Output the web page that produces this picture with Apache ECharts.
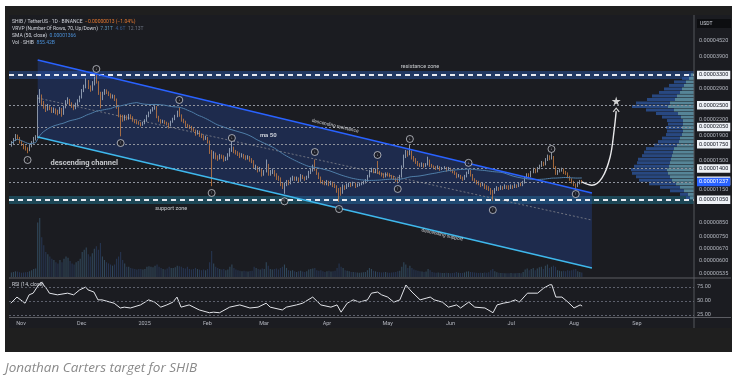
<!DOCTYPE html>
<html><head><meta charset="utf-8">
<script src="https://cdn.jsdelivr.net/npm/echarts@6/dist/echarts.min.js"></script>
<style>html,body{margin:0;padding:0;background:#fff;}#c{width:737px;height:382px;}</style>
</head><body><div id="c"></div>
<script>
// ---------- DATA (prices in units of 1e-8 USDT) ----------
const startDate = [2024, 10, 27]; // first daily candle
const firstOpen = 1730;
const closes = [1760,1820,1880,1850,1790,1740,1700,1680,1650,1720,
1780,1840,1860,2600,2700,2560,2480,2420,2470,2430,
2380,2400,2360,2330,2420,2310,2450,2560,2620,2540,
2490,2430,2520,2600,2680,2850,2950,3100,2950,2880,
3050,3130,3100,2800,2650,2780,2850,2810,2760,2700,
2720,2640,2450,2280,2230,2200,2250,2210,2280,2240,
2180,2150,2130,2120,2090,2120,2170,2260,2330,2380,
2420,2470,2250,2180,2150,2160,2130,2110,2080,2150,
2200,2260,2350,2280,2180,2150,2080,2060,2040,2010,
1990,1930,1960,1900,1880,1840,1860,1800,1640,1560,
1600,1560,1540,1570,1560,1520,1530,1580,1650,1690,
1640,1620,1600,1570,1580,1560,1540,1550,1520,1500,
1420,1420,1380,1390,1330,1360,1450,1330,1350,1370,
1330,1290,1280,1220,1190,1210,1240,1230,1270,1290,
1270,1280,1250,1310,1290,1270,1290,1350,1380,1420,
1390,1340,1290,1240,1230,1220,1240,1210,1230,1200,
1190,1150,1140,1130,1190,1170,1200,1210,1200,1220,
1190,1200,1210,1220,1230,1250,1300,1360,1390,1360,
1380,1350,1340,1320,1300,1330,1320,1310,1290,1280,
1260,1250,1300,1420,1560,1620,1590,1640,1550,1520,
1490,1450,1440,1460,1430,1450,1510,1440,1430,1410,
1400,1420,1390,1400,1410,1380,1400,1380,1360,1340,
1300,1310,1290,1270,1300,1340,1370,1320,1270,1250,
1230,1220,1200,1210,1180,1170,1160,1130,1120,1150,
1170,1160,1180,1170,1190,1180,1170,1190,1180,1200,
1190,1210,1200,1230,1280,1320,1300,1350,1390,1360,
1400,1430,1480,1450,1520,1560,1530,1560,1420,1340,
1360,1380,1390,1350,1340,1300,1270,1240,1210,1190,
1220,1250,1237];
const highs = [1800,1850,1920,1910,1870,1810,1760,1730,1700,1740,
1800,1870,1900,2750,2900,2760,2600,2520,2530,2510,
2460,2450,2430,2400,2460,2440,2490,2620,2690,2650,
2570,2520,2560,2640,2730,2900,3020,3200,3150,3000,
3120,3250,3330,3120,2830,2830,2900,2890,2840,2790,
2760,2750,2660,2470,2300,2290,2290,2280,2310,2300,
2260,2200,2180,2160,2140,2150,2200,2290,2360,2410,
2460,2520,2480,2270,2200,2190,2180,2150,2130,2170,
2230,2290,2380,2460,2300,2210,2170,2110,2090,2070,
2040,2000,1990,1980,1930,1900,1890,1870,1810,1660,
1640,1620,1580,1600,1590,1580,1560,1610,1690,1790,
1710,1660,1640,1620,1610,1600,1580,1580,1570,1540,
1510,1450,1430,1420,1400,1380,1520,1460,1380,1400,
1380,1340,1310,1290,1230,1230,1260,1260,1290,1310,
1300,1300,1290,1330,1320,1300,1310,1370,1400,1450,
1520,1400,1350,1300,1260,1250,1260,1250,1250,1240,
1220,1200,1170,1180,1210,1200,1220,1230,1230,1240,
1230,1220,1230,1240,1250,1270,1320,1380,1410,1400,
1400,1500,1370,1350,1340,1350,1350,1340,1320,1310,
1290,1280,1320,1440,1590,1660,1650,1740,1650,1570,
1540,1500,1470,1480,1470,1470,1560,1520,1460,1440,
1430,1440,1430,1420,1430,1420,1420,1410,1390,1370,
1350,1330,1320,1300,1320,1360,1390,1380,1330,1280,
1260,1250,1230,1230,1220,1200,1190,1170,1150,1170,
1190,1180,1200,1190,1210,1200,1200,1210,1200,1220,
1210,1230,1230,1250,1300,1340,1340,1370,1410,1400,
1420,1450,1500,1490,1540,1590,1580,1620,1570,1430,
1380,1400,1410,1400,1370,1350,1310,1280,1250,1220,
1240,1260,1260];
const lows = [1710,1740,1800,1820,1760,1720,1670,1650,1610,1640,
1700,1760,1810,1850,2550,2480,2420,2350,2380,2390,
2330,2330,2300,2280,2310,2250,2290,2430,2530,2500,
2440,2390,2410,2490,2570,2660,2820,2920,2900,2830,
2860,3000,3050,2750,2430,2620,2750,2770,2720,2660,
2660,2600,2420,2240,1880,2150,2170,2180,2190,2200,
2150,2120,2100,2090,2060,2070,2100,2150,2240,2310,
2360,2400,2220,2150,2110,2120,2100,2080,2020,2060,
2130,2180,2240,2250,2150,2120,2050,2030,2010,1980,
1960,1890,1910,1870,1850,1810,1820,1760,1600,1190,
1530,1520,1500,1520,1530,1490,1500,1510,1560,1630,
1610,1590,1570,1540,1550,1530,1510,1520,1490,1470,
1400,1380,1350,1360,1300,1310,1350,1310,1310,1330,
1300,1260,1250,1190,1160,1110,1190,1200,1210,1250,
1250,1250,1230,1240,1270,1250,1260,1280,1330,1360,
1370,1320,1270,1220,1210,1200,1200,1190,1200,1180,
1170,1120,1030,1090,1110,1150,1160,1180,1180,1190,
1170,1180,1190,1200,1210,1220,1240,1290,1350,1340,
1340,1330,1320,1300,1280,1290,1300,1290,1270,1260,
1240,1220,1240,1290,1410,1540,1560,1580,1520,1490,
1460,1430,1420,1420,1410,1420,1440,1420,1410,1390,
1380,1390,1370,1380,1390,1360,1370,1360,1340,1320,
1280,1290,1270,1250,1260,1290,1330,1300,1250,1230,
1210,1200,1180,1190,1160,1150,1140,1100,1040,1110,
1140,1140,1150,1150,1160,1160,1150,1160,1160,1170,
1170,1180,1190,1190,1220,1270,1280,1290,1340,1340,
1350,1390,1420,1430,1440,1500,1510,1520,1400,1320,
1320,1350,1360,1330,1320,1280,1250,1220,1190,1150,
1180,1210,1220];
// daily volume, billions of SHIB
const volumes = [400,450,500,480,420,380,400,420,450,500,
600,700,750,4800,5200,3500,2800,2200,2000,1800,
1600,1500,1300,1200,1500,1300,1600,1800,1700,1400,
1200,1100,1300,1400,1600,2200,2400,2600,2000,1800,
2100,2500,2700,2400,3000,1800,1500,1300,1200,1100,
1000,1100,1600,1800,2200,1500,1200,900,900,800,
750,700,650,700,700,650,700,900,950,900,
850,1000,1100,900,800,700,650,750,900,800,
800,850,1000,950,900,800,750,900,700,650,
700,800,700,650,600,650,600,700,1300,2300,
1200,900,800,700,650,700,600,650,900,1100,
800,650,600,550,500,550,500,480,520,550,
900,800,700,650,750,700,1300,1000,700,650,
700,750,650,800,900,1100,800,600,550,600,
500,450,500,550,480,450,500,650,700,750,
800,600,550,600,500,450,500,550,480,500,
550,800,1200,900,800,600,550,500,450,450,
420,400,380,400,420,450,600,800,700,550,
500,450,420,400,420,450,400,380,400,420,
450,500,550,900,1300,1100,800,1000,800,650,
600,550,500,480,450,480,700,600,450,400,
380,400,380,350,360,380,350,340,360,380,
450,380,350,360,400,480,500,450,420,400,
380,360,380,350,400,380,420,600,700,500,
420,380,360,350,340,330,320,350,340,330,
350,360,340,450,650,750,600,700,800,600,
750,850,900,700,1000,1100,800,900,1000,900,
600,550,500,550,500,600,550,600,650,700,
500,450,400];
// RSI(14): day index -> value
const rsiDays = [0,3,7,9,11,13,15,18,19,23,28,31,34,37,38,41,43,45,49,51,54,56,59,64,68,71,74,77,80,82,84,88,93,98,100,103,108,113,118,122,126,128,134,136,141,144,149,153,158,161,163,166,169,172,176,178,181,183,186,189,192,195,197,198,202,205,207,209,213,216,220,222,226,229,234,238,240,243,246,249,251,255,260,263,266,267,269,272,275,278,281,282];
const rsiValues = [46,57,46,61,64,75,84,70,64,61,64,61,70,75,70,66,52,52,48,46,37.5,39,37.5,43,52,48,39,43,48,57,39,43,34,29,30,29,39,43,37.5,39,46,39,34,39,43,46,57,43,39,43,30,46,52,48,52,64,66,61,57,48,52,78.6,70,66,52,55,57,52,48,39,43,37.5,48,39,37.5,29,43,46,48,52,48,64,64,73,79,79,57,57,48,37.5,43,41];
const rsiLevels = [75, 50, 25];
// visible-range volume profile, shown as 36 bands: price edges and volumes (T)
const profileEdges = [1050,1084,1120,1157,1194,1234,1274,1316,1359,1403,1449,1497,1546,1596,1649,1703,1758,1816,1875,1937,2000,2066,2133,2203,2275,2350,2427,2506,2588,2673,2761,2851,2944,3041,3140,3243,3350];
const profileUp =   [0.4,0.6,1.0,1.4,1.8,2.2,2.4,2.6,2.7,2.5,2.4,2.3,2.2,2.1,2.0,1.7,1.5,1.4,1.2,1.1,1.2,1.1,1.1,1.3,1.6,2.0,2.6,2.4,1.9,1.7,1.4,1.2,1.0,0.8,0.5,0.3];
const profileDown = [0.4,0.8,1.4,2.0,2.7,3.3,3.4,3.6,3.6,3.5,3.3,3.3,3.0,2.9,2.8,2.3,2.1,1.8,1.6,1.6,1.6,1.5,1.6,1.9,2.2,2.8,3.6,3.4,2.8,2.5,2.1,1.8,1.5,1.2,0.7,0.3];
// price-axis labels
const plainLevels = [4520,3900,2900,2200,1900,1500,1150,850,750,670,600,535];
const boxLevels = [3300,2500,2050,1750,1400,1250,1050];
const dottedLevels = [2500,2050,1750,1400];
const zoneLevels = [3300,1050];
const zoneBands = [[3181,3423],[1010,1087]];
// time-axis labels
const monthTicks = ['2024-11-01','2024-12-01','2025-01-01','2025-02-01','2025-03-01','2025-04-01','2025-05-01','2025-06-01','2025-07-01','2025-08-01','2025-09-01'];
const monthLabels = ['Nov','Dec','2025','Feb','Mar','Apr','May','Jun','Jul','Aug','Sep'];
// drawings (day index, price)
const channelDays = [13,287,287,13];
const channelPrices = [3787,1118,562,1868];
const resistDays = [13,287], resistPrices = [3787,1118];
const supportDays = [13,287], supportPrices = [1868,562];
const midDays = [13,287], midPrices = [2672,872];
const arrowDays = [282,287,292,296,298,299];
const arrowPrices = [1237,1200,1283,1555,1993,2370];
const targetDay = 299, targetPrice = 2600, arrowHeadPrice = 2400;
const markerDays =   [8,42,54,83,99,109,135,150,162,181,191,197,226,238,267,279];
const markerPrices = [1513,3487,1768,2624,1118,1851,1036,1628,965,1584,1160,1835,1474,956,1674,1107];
const markerDirs =   ['up','down','up','down','up','down','up','down','up','down','up','down','down','up','down','up'];
const annoTexts = ['descending channel','support zone','resistance zone','ma 50','descending resistance','descending support'];
const annoDays = [36,79,202,127,160,213];
const annoPrices = [1472,965,3551,1886,2067,761];

// ---------- BUILD ----------
const DAY = 86400000;
const T0 = Date.UTC(startDate[0], startDate[1]-1, startDate[2]);
const ts = d => T0 + d*DAY;
const fmtPrice = v => (v/1e8).toFixed(8);
const FONT = 'Roboto, "Noto Sans", sans-serif';

const opens = closes.map((c,i) => i === 0 ? firstOpen : closes[i-1]);
const candleData = closes.map((c,i) => [ts(i), opens[i], c, lows[i], highs[i]]);
const volData = volumes.map((v,i) => ({value:[ts(i), v], itemStyle:{color: closes[i] >= opens[i] ? 'rgba(78,132,170,0.42)' : 'rgba(50,80,132,0.48)'}}));
const ma = closes.map((c,i) => { const s = Math.max(0, i-49); let sum = 0; for (let k=s;k<=i;k++) sum += closes[k]; return [ts(i), sum/(i-s+1)]; });
const lastClose = closes[closes.length-1];
const profileData = profileUp.map((u,k) => [u, profileDown[k], profileEdges[k], profileEdges[k+1]]);

const ml = [];
plainLevels.forEach(v => ml.push({yAxis:v, lineStyle:{color:'rgba(0,0,0,0)', width:0.5}, label:{formatter: fmtPrice(v), color:'#b2b5be', backgroundColor:'rgba(0,0,0,0)'}}));
boxLevels.forEach(v => {
  const isZone = zoneLevels.includes(v), isDot = dottedLevels.includes(v);
  ml.push({yAxis:v,
    lineStyle: isZone ? {color:'#e8ebf2', width:2, type:[5,4]} : (isDot ? {color:'#8f939d', width:1, type:[2,2]} : {color:'rgba(0,0,0,0)', width:0.5}),
    label:{formatter: fmtPrice(v), color:'#131722', backgroundColor:'#eef1f6'}});
});
ml.push({yAxis:lastClose, lineStyle:{color:'#8f939d', width:1, type:[2,2]}, label:{formatter: fmtPrice(lastClose), color:'#ffffff', backgroundColor:'#2962ff'}});

const monthTs = monthTicks.map(s => { const p = s.split('-').map(Number); return Date.UTC(p[0], p[1]-1, p[2]); });

const chart = echarts.init(document.getElementById('c'));
const starPath = 'path://M50,0 L61,35 L98,35 L68,57 L79,91 L50,70 L21,91 L32,57 L2,35 L39,35 Z';
const chevron = 'path://M0,6 L5,0 L10,6 L8.6,7 L5,2.4 L1.4,7 Z';

chart.setOption({
  animation:false,
  backgroundColor:'#ffffff',
  textStyle:{fontFamily:FONT},
  graphic:[
    {type:'rect', z:-20, silent:true, shape:{x:5,y:6,width:727,height:346}, style:{fill:'#1f1f1f'}},
    {type:'rect', z:-19, silent:true, shape:{x:9,y:15,width:722,height:313}, style:{fill:'#1b1c21'}},
    {type:'line', z:50, silent:true, shape:{x1:694,y1:15,x2:694,y2:328}, style:{stroke:'#55565c', lineWidth:1}},
    {type:'line', z:50, silent:true, shape:{x1:9,y1:278,x2:731,y2:278}, style:{stroke:'#5c5d63', lineWidth:1}},
    {type:'line', z:50, silent:true, shape:{x1:9,y1:317.5,x2:731,y2:317.5}, style:{stroke:'#5c5d63', lineWidth:1}},
    {type:'rect', z:50, silent:true, shape:{x:697,y:19,width:34,height:9}, style:{fill:'#0d0e11'}},
    {type:'text', z:51, silent:true, style:{x:700,y:23.5,text:'USDT',fill:'#d1d4dc',font:'5px '+FONT,verticalAlign:'middle'}},
    {type:'text', z:51, silent:true, style:{x:12,y:22,verticalAlign:'middle',text:'{a|SHIB / TetherUS · 1D · BINANCE}  {b|−0.00000013 (−1.04%)}', font:'5px '+FONT, rich:{a:{fill:'#d1d4dc',font:'5px '+FONT}, b:{fill:'#e8792f',font:'5px '+FONT}}}},
    {type:'text', z:51, silent:true, style:{x:12,y:29,verticalAlign:'middle',text:'{a|VRVP (Number Of Rows, 70, Up/Down)}  {b|7.31T}  {c|4.6T}  {d|12.13T}', font:'5px '+FONT, rich:{a:{fill:'#d1d4dc',font:'5px '+FONT}, b:{fill:'#5b93b8',font:'5px '+FONT}, c:{fill:'#3a5a8c',font:'5px '+FONT}, d:{fill:'#6b7280',font:'5px '+FONT}}}},
    {type:'text', z:51, silent:true, style:{x:12,y:36,verticalAlign:'middle',text:'{a|SMA (50, close)}  {b|0.00001366}', font:'5px '+FONT, rich:{a:{fill:'#d1d4dc',font:'5px '+FONT}, b:{fill:'#4a8fd6',font:'5px '+FONT}}}},
    {type:'text', z:51, silent:true, style:{x:12,y:43,verticalAlign:'middle',text:'{a|Vol · SHIB}  {b|855.42B}', font:'5px '+FONT, rich:{a:{fill:'#d1d4dc',font:'5px '+FONT}, b:{fill:'#4a8fd6',font:'5px '+FONT}}}},
    {type:'text', z:51, silent:true, style:{x:12,y:284.5,verticalAlign:'middle',text:'RSI (14, close)', fill:'#d1d4dc', font:'5px '+FONT}},
    {type:'text', z:51, silent:true, style:{x:5,y:368,verticalAlign:'middle',text:'Jonathan Carters target for SHIB', fill:'#8a8a8a', font:'italic 13.5px "Open Sans", Lato, sans-serif'}}
  ],
  grid:[
    {left:9, top:16, width:685, height:261},
    {left:9, top:279, width:685, height:38}
  ],
  xAxis:[
    {type:'time', gridIndex:0, min:T0-0.92*DAY, max:T0+337.2*DAY, show:false},
    {type:'value', gridIndex:0, min:0, max:68.5, inverse:true, position:'top', show:false},
    {type:'value', gridIndex:1, min:T0-0.92*DAY, max:T0+337.2*DAY,
      axisLine:{show:false}, axisTick:{show:false}, splitLine:{show:false},
      axisLabel:{customValues:monthTs, color:'#b2b5be', fontSize:5.5, margin:4, fontFamily:FONT,
        formatter:(v)=>{ const i = monthTs.findIndex(t => Math.abs(t - v) < DAY/2); return i >= 0 ? monthLabels[i] : ''; }}}
  ],
  yAxis:[
    {type:'log', gridIndex:0, min:517.3, max:5670, show:false},
    {type:'value', gridIndex:0, min:0, max:23000, show:false},
    {type:'value', gridIndex:1, min:21.4, max:89.3, position:'right',
      axisLine:{show:false}, axisTick:{show:false}, splitLine:{show:false},
      axisLabel:{customValues:rsiLevels, color:'#b2b5be', fontSize:5.5, margin:3, fontFamily:FONT, formatter:(v)=>Number(v).toFixed(2)}}
  ],
  series:[
    {type:'custom', name:'channel', xAxisIndex:0, yAxisIndex:0, z:1, silent:true,
      data: channelDays.map((d,i)=>[ts(d), channelPrices[i]]),
      renderItem:(params, api)=>{
        if (params.dataIndex !== 0) return null;
        const pts = channelDays.map((d,i)=>api.coord([ts(d), channelPrices[i]]));
        return {type:'polygon', shape:{points:pts}, style:{fill:'rgba(40,86,196,0.27)'}};
      }},
    {type:'bar', name:'volume', xAxisIndex:0, yAxisIndex:1, z:2, barWidth:1.1, silent:true, data:volData},
    {type:'custom', name:'vrvp', xAxisIndex:1, yAxisIndex:0, z:2, silent:true, data:profileData,
      renderItem:(params, api)=>{
        const up = api.value(0), dn = api.value(1), lo = api.value(2), hi = api.value(3);
        const p0 = api.coord([0, lo]), p1 = api.coord([up, hi]), p2 = api.coord([up+dn, hi]);
        const h = Math.max(0.5, p0[1]-p1[1]-0.5);
        return {type:'group', children:[
          {type:'rect', shape:{x:p1[0], y:p1[1], width:p0[0]-p1[0], height:h}, style:{fill:'rgba(96,152,172,0.85)'}},
          {type:'rect', shape:{x:p2[0], y:p1[1], width:p1[0]-p2[0], height:h}, style:{fill:'rgba(42,80,146,0.85)'}}
        ]};
      }},
    {type:'line', name:'mid', xAxisIndex:0, yAxisIndex:0, z:3, symbol:'none', silent:true,
      data: midDays.map((d,i)=>[ts(d), midPrices[i]]), lineStyle:{color:'#6f7380', width:1, type:[2,2]}},
    {type:'candlestick', name:'SHIBUSDT', xAxisIndex:0, yAxisIndex:0, z:4, barWidth:1.2, silent:true,
      data:candleData,
      itemStyle:{color:'#b9c6d6', color0:'#dc8640', borderColor:'#b9c6d6', borderColor0:'#dc8640', borderWidth:0.7},
      markArea:{silent:true, data: zoneBands.map((b,i)=>[{yAxis:b[0], itemStyle:{color: i===0 ? 'rgba(36,66,120,0.75)' : 'rgba(30,82,100,0.8)'}},{yAxis:b[1]}])},
      markLine:{silent:true, symbol:['none','none'], animation:false,
        label:{show:true, position:'end', distance:3, fontSize:5.5, fontFamily:FONT, padding:[1.5,2,1,2]},
        data: ml}},
    {type:'line', name:'SMA 50', xAxisIndex:0, yAxisIndex:0, z:5, symbol:'none', silent:true, data:ma,
      lineStyle:{color:'#4f7ea8', width:1}},
    {type:'line', name:'descending resistance', xAxisIndex:0, yAxisIndex:0, z:5, symbol:'none', silent:true,
      data: resistDays.map((d,i)=>[ts(d), resistPrices[i]]), lineStyle:{color:'#2962ff', width:1.6}},
    {type:'line', name:'descending support', xAxisIndex:0, yAxisIndex:0, z:5, symbol:'none', silent:true,
      data: supportDays.map((d,i)=>[ts(d), supportPrices[i]]), lineStyle:{color:'#3fb8ec', width:1.6}},
    {type:'line', name:'target path', xAxisIndex:0, yAxisIndex:0, z:6, symbol:'none', smooth:0.35, silent:true,
      data: arrowDays.map((d,i)=>[ts(d), arrowPrices[i]]), lineStyle:{color:'#e8e8ea', width:1.4}},
    {type:'scatter', name:'target', xAxisIndex:0, yAxisIndex:0, z:7, silent:true,
      data:[{value:[ts(targetDay), arrowHeadPrice], symbol:chevron, symbolSize:[7,5]},
            {value:[ts(targetDay), targetPrice], symbol:starPath, symbolSize:9}],
      itemStyle:{color:'#ffffff'}},
    {type:'scatter', name:'markers', xAxisIndex:0, yAxisIndex:0, z:7, silent:true, clip:false,
      symbol:'circle', symbolSize:7,
      data: markerDays.map((d,i)=>({value:[ts(d), markerPrices[i]]})),
      itemStyle:{color:'#1b1c21', borderColor:'#d6d9e0', borderWidth:0.9},
      label:{show:true, position:'inside', fontSize:4.5, color:'#d6d9e0', fontFamily:FONT,
        formatter:(p)=> markerDirs[p.dataIndex]==='up' ? '↑' : '↓'}},
    {type:'scatter', name:'annotations', xAxisIndex:0, yAxisIndex:0, z:8, silent:true, clip:false, symbolSize:0,
      data: annoTexts.map((t,i)=>({value:[ts(annoDays[i]), annoPrices[i]], name:t,
        label:{
          fontSize: [7.5,5.5,5.5,6,4.8,4.8][i],
          fontWeight: [700,400,400,700,400,400][i],
          rotate: [0,0,0,0,-13,-13][i]
        }})),
      label:{show:true, position:'inside', color:'#eef0f4', fontFamily:FONT, formatter:(p)=>p.name}},
    {type:'line', name:'RSI', xAxisIndex:2, yAxisIndex:2, z:4, symbol:'none', silent:true,
      data: rsiDays.map((d,i)=>[ts(d), rsiValues[i]]), lineStyle:{color:'#e3e5ea', width:1},
      markLine:{silent:true, symbol:['none','none'], label:{show:false},
        lineStyle:{color:'#6f7380', width:0.8, type:[2,2]},
        data: rsiLevels.map(v=>({yAxis:v}))}}
  ]
});
</script>
</body></html>
